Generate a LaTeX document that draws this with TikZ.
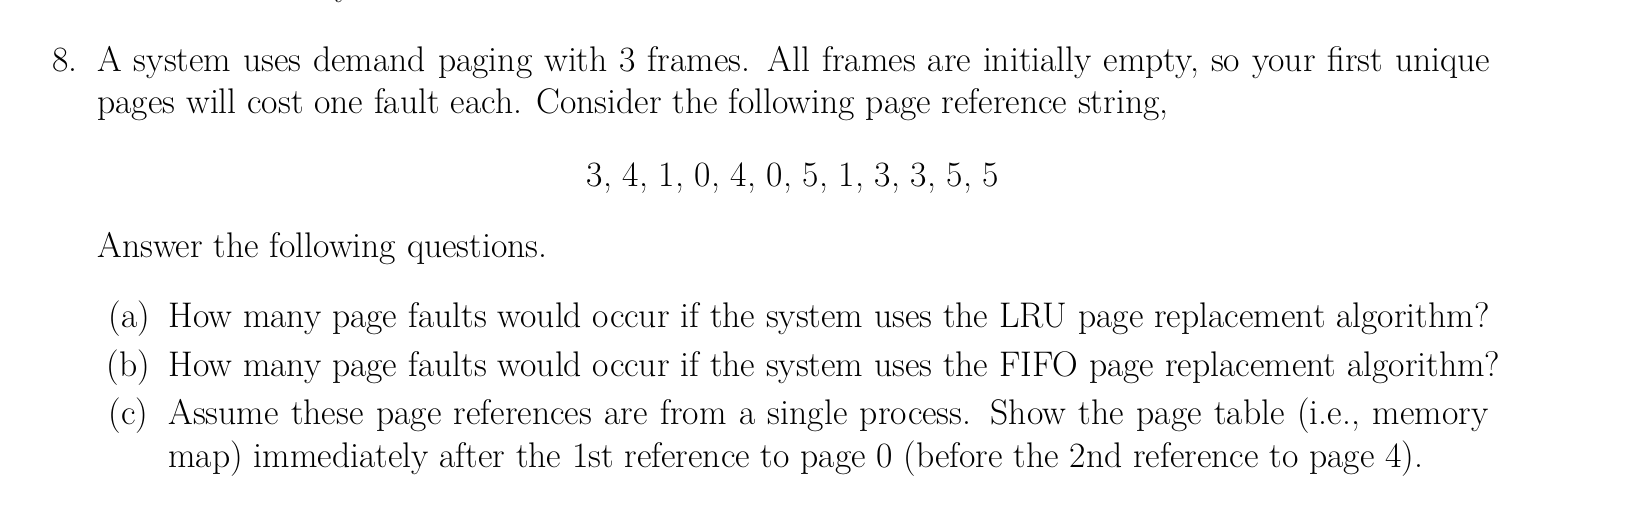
\documentclass[tikz,border=0pt]{standalone}
\begin{document}
\begin{tikzpicture}[x=0.5pt,y=-0.5pt,
  txt/.style={anchor=base west,inner sep=0pt,font=\fontsize{17.8}{21}\selectfont}]
\useasboundingbox (0,0) rectangle (1642,512);
\begin{scope}
\clip (0,0) rectangle (1642,512);
\node[txt] (top) at (155,-4) {main memory be.};
\end{scope}
\node[txt] (n8) at (52,72) {8.};
\node[txt] (l1) at (97,72) {\makebox[696.5pt][s]{A system uses demand paging with 3 frames. All frames are initially empty, so your first unique}};
\node[txt] (l2) at (97,114) {pages will cost one fault each. Consider the following page reference string,};
\node[txt,anchor=base] (seq) at (793,187) {3, 4, 1, 0, 4, 0, 5, 1, 3, 3, 5, 5};
\node[txt] (ans) at (97,258) {Answer the following questions.};
\node[txt] (la) at (108,328) {(a)};
\node[txt] (ta) at (168,328) {How many page faults would occur if the system uses the LRU page replacement algorithm?};
\node[txt] (lb) at (106,377) {(b)};
\node[txt] (tb) at (168,377) {How many page faults would occur if the system uses the FIFO page replacement algorithm?};
\node[txt] (lc) at (108,425) {(c)};
\node[txt] (tc) at (168,425) {\makebox[660pt][s]{Assume these page references are from a single process. Show the page table (i.e., memory}};
\node[txt] (tc2) at (168,467) {map) immediately after the 1st reference to page 0 (before the 2nd reference to page 4).};
\end{tikzpicture}
\end{document}
